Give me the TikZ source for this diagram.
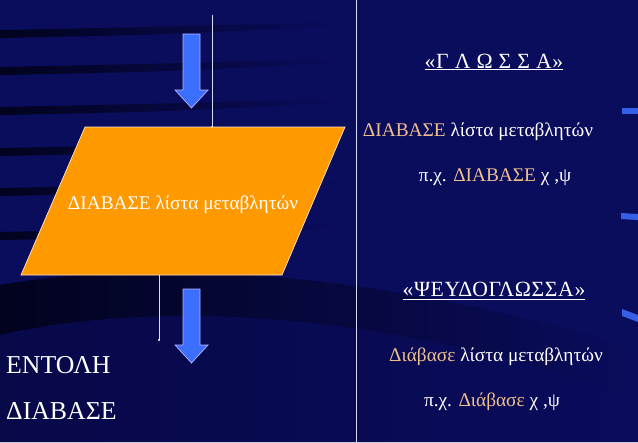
\documentclass[tikz,border=0pt]{standalone}
\usepackage{fontspec}
\setmainfont{Liberation Serif}
\definecolor{bgnavy}{RGB}{10,12,92}
\definecolor{bgdark}{RGB}{2,3,30}
\definecolor{boxorange}{RGB}{255,153,0}
\definecolor{arrowblue}{RGB}{60,110,255}
\definecolor{keytan}{RGB}{240,192,140}
\tikzset{
  blockarrow/.style={fill=arrowblue, draw=blue!30!white, line width=0.6pt},
  thinline/.style={draw=white!85!blue, line width=0.5pt},
  label/.style={text=white, font=\fontsize{16.5}{18}\selectfont, inner sep=0pt},
  title/.style={label, font=\fontsize{18.5}{20}\selectfont\addfontfeature{LetterSpace=3}},
  biglabel/.style={text=white, font=\fontsize{22}{24}\selectfont, inner sep=0pt, anchor=west}
}
\newcommand{\keyword}[1]{\textcolor{keytan}{#1}}
\begin{document}
\begin{tikzpicture}[x=0.03cm, y=-0.03cm]
                  % background
                  \fill [bgnavy] (0,0) rectangle (638,442);
                  \useasboundingbox (0,0) rectangle (638,442);
                  \foreach \yy/\ww in {30/8, 67/8, 107/8, 148/8, 188/8, 232/8}
                    \shade [left color=bgdark, right color=bgnavy] (0,\yy) .. controls (150,\yy-3) .. (340,\yy-8) -- (340,\yy-8+\ww*0.5) .. controls (150,\yy+\ww-3) .. (0,\yy+\ww) -- cycle;
                  \shade [left color=bgdark, right color=bgnavy] (0,285) .. controls (200,250) and (450,290) .. (638,350) -- (638,442) -- (0,442) -- cycle;
                  \fill [bgnavy, opacity=0.7] (0,335) .. controls (200,290) and (450,330) .. (638,400) -- (638,442) -- (0,442) -- cycle;
                  \fill [arrowblue!85!bgnavy] (622,108) rectangle (638,114);
                  \fill [arrowblue!85!bgnavy] (621,213) -- (638,214) -- (638,220) -- (621,219) -- cycle;
                  \fill [arrowblue!85!bgnavy] (622,309) -- (638,315) -- (638,322) -- (622,316) -- cycle;
                  \draw [thinline] (356,0) -- (356,442);
                  % flowchart
                  \draw [blockarrow] (183,34) -- (200,34) -- (200,90) -- (208,90) -- (191.5,108) -- (175,90) -- (183,90) -- cycle;
                  \draw [fill=boxorange, draw=white!80!orange, line width=0.6pt] (85,127) -- (345,127) -- (282,275) -- (21,275) -- cycle;
                  \node [label] (readbox) at (183,205) {ΔΙΑΒΑΣΕ λίστα μεταβλητών};
                  \coordinate (intop) at (212,15);
                  \coordinate (inend) at (212,127);
                  \draw [thinline] (intop) -- (inend);
                  \fill [white] (inend) circle[radius=0.8pt];
                  \coordinate (outtop) at (159,275);
                  \coordinate (outend) at (159,340);
                  \draw [thinline] (outtop) -- (outend);
                  \fill [white] (outend) circle[radius=1pt];
                  \draw [blockarrow] (183,289) -- (200,289) -- (200,345) -- (208,345) -- (191.5,363) -- (175,345) -- (183,345) -- cycle;
                  \node [biglabel] (cmd) at (6,365) {ΕΝΤΟΛΗ};
                  \node [biglabel] (cmdname) at (6,411) {ΔΙΑΒΑΣΕ};
                  % right column
                  \node [title] (glossa) at (494,62) {\underline{«Γ Λ Ω Σ Σ Α»}};
                  \node [label] (gsyntax) at (478,132) {\keyword{ΔΙΑΒΑΣΕ} λίστα μεταβλητών};
                  \node [label] (gexample) at (495,177) {π.χ. \keyword{ΔΙΑΒΑΣΕ} χ ,ψ};
                  \node [title] (pseudo) at (494,291) {\underline{«ΨΕΥΔΟΓΛΩΣΣΑ»}};
                  \node [label] (psyntax) at (496,357) {\keyword{Διάβασε} λίστα μεταβλητών};
                  \node [label] (pexample) at (492,402) {π.χ. \keyword{Διάβασε} χ ,ψ};
              \end{tikzpicture}
\end{document}
